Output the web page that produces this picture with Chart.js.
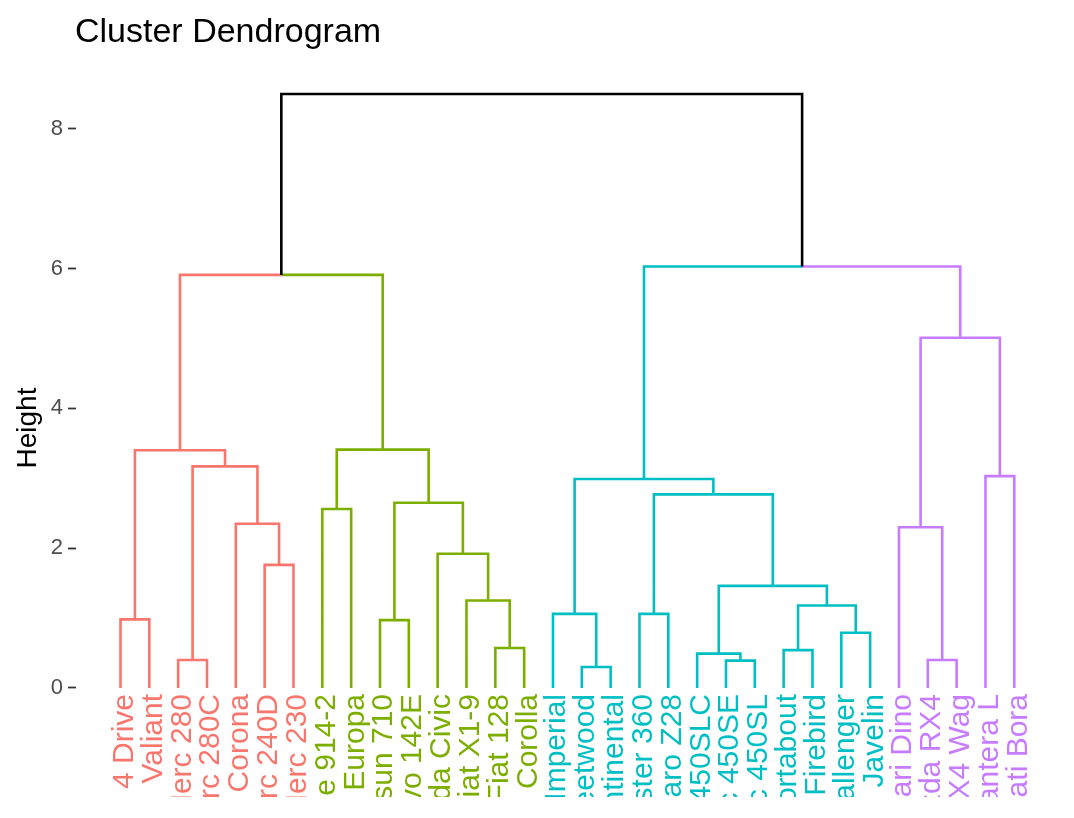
<!DOCTYPE html>
<html>
<head>
<meta charset="utf-8">
<title>Cluster Dendrogram</title>
<script src="https://cdn.jsdelivr.net/npm/chart.js@4.4.1/dist/chart.umd.min.js"></script>
<style>
  html, body { margin: 0; padding: 0; background: #fff; }
  #wrap { width: 1074px; height: 797px; }
</style>
</head>
<body>
<div id="wrap"><canvas id="dend" width="1074" height="797"></canvas></div>
<script>
// leaves in the order they appear on the dendrogram
const leafNames = [
  'Hornet 4 Drive', 'Valiant', 'Merc 280', 'Merc 280C', 'Toyota Corona', 'Merc 240D', 'Merc 230',
  'Porsche 914-2', 'Lotus Europa', 'Datsun 710', 'Volvo 142E', 'Honda Civic', 'Fiat X1-9', 'Fiat 128', 'Toyota Corolla',
  'Chrysler Imperial', 'Cadillac Fleetwood', 'Lincoln Continental', 'Duster 360', 'Camaro Z28',
  'Merc 450SLC', 'Merc 450SE', 'Merc 450SL', 'Hornet Sportabout', 'Pontiac Firebird', 'Dodge Challenger', 'AMC Javelin',
  'Ferrari Dino', 'Mazda RX4', 'Mazda RX4 Wag', 'Ford Pantera L', 'Maserati Bora'
];
const leafCluster = [1,1,1,1,1,1,1, 2,2,2,2,2,2,2,2, 3,3,3,3,3,3,3,3,3,3,3,3, 4,4,4,4,4];
const clusterColors = ['#000000', '#F8766D', '#7CAE00', '#00BFC4', '#C77CFF'];

// merge table, hclust style: negative = leaf number, positive = earlier merge row
const mergeLeft   = [ -3, -17, -22, -29, -21, -24, -14, -26, -10, -1, -16, -19,  6, -13,  5,  -6, -12, -28, -5, -8,  9, 12, 11, -31,  1, 10, 20, 18, 26, 23, 29];
const mergeRight  = [ -4, -18, -23, -30,   3, -25, -15, -27, -11, -2,   2, -20,  8,   7, 13,  -7,  14,   4, 16, -9, 17, 15, 22, -32, 19, 25, 21, 24, 27, 28, 30];
const mergeHeight = [0.40, 0.30, 0.39, 0.40, 0.49, 0.54, 0.57, 0.79, 0.97, 0.98, 1.06, 1.06, 1.18, 1.25, 1.46,
                     1.76, 1.92, 2.30, 2.35, 2.56, 2.65, 2.77, 2.99, 3.03, 3.17, 3.40, 3.41, 5.01, 5.91, 6.03, 8.50];
const yTicks = [0, 2, 4, 6, 8];

// walk the merges and collect the elbow segments per colour
const nodeX = [];
const nodeCl = [];
const segs = {};
function childInfo(ref) {
  if (ref < 0) return { x: -ref, h: 0, cl: leafCluster[-ref - 1] };
  return { x: nodeX[ref - 1], h: mergeHeight[ref - 1], cl: nodeCl[ref - 1] };
}
mergeLeft.forEach(function(l, i) {
  const a = childInfo(l);
  const b = childInfo(mergeRight[i]);
  const h = mergeHeight[i];
  const x = (a.x + b.x) / 2;
  nodeX[i] = x;
  nodeCl[i] = a.cl === b.cl ? a.cl : 0;
  [a, b].forEach(function(c) {
    if (!segs[c.cl]) segs[c.cl] = [];
    segs[c.cl].push({x: x, y: h}, {x: c.x, y: h}, {x: c.x, y: c.h}, {x: c.x, y: null});
  });
});

const datasets = Object.keys(segs).map(function(k) {
  return {
    data: segs[k],
    borderColor: clusterColors[k],
    borderWidth: 2.6,
    pointRadius: 0,
    spanGaps: false,
    tension: 0,
    borderJoinStyle: 'miter',
    borderCapStyle: 'butt',
    clip: false
  };
});

const FONT = '"Liberation Sans", Arial, sans-serif';

const textPlugin = {
  id: 'dendText',
  afterDraw: function(chart) {
    const ctx = chart.ctx;
    const xs = chart.scales.x;
    ctx.save();
    // title
    ctx.fillStyle = '#000';
    ctx.font = '34px ' + FONT;
    ctx.textAlign = 'left';
    ctx.textBaseline = 'alphabetic';
    ctx.fillText('Cluster Dendrogram', 75, 41.5);
    // y axis title
    ctx.save();
    ctx.translate(36, 428);
    ctx.rotate(-Math.PI / 2);
    ctx.font = '28px ' + FONT;
    ctx.textAlign = 'center';
    ctx.fillText('Height', 0, 0);
    ctx.restore();
    // leaf labels
    ctx.font = '30px ' + FONT;
    ctx.textAlign = 'right';
    leafNames.forEach(function(name, i) {
      const px = xs.getPixelForValue(i + 1);
      ctx.save();
      ctx.translate(px + 12.5, 694);
      ctx.rotate(-Math.PI / 2);
      ctx.fillStyle = clusterColors[leafCluster[i]];
      ctx.fillText(name, 0, 0);
      ctx.restore();
    });
    ctx.restore();
  }
};

new Chart(document.getElementById('dend'), {
  type: 'line',
  data: { datasets: datasets },
  options: {
    responsive: false,
    animation: false,
    layout: { padding: { left: 0, right: 14, top: 59, bottom: 107 } },
    plugins: { legend: { display: false }, tooltip: { enabled: false }, title: { display: false } },
    scales: {
      x: { type: 'linear', display: false, min: -0.5435, max: 33.585 },
      y: {
        type: 'linear',
        min: -0.03,
        max: 9,
        afterBuildTicks: function(s) { s.ticks = yTicks.map(function(v) { return {value: v}; }); },
        afterFit: function(s) { s.width = 76; },
        ticks: { color: '#4D4D4D', font: { family: FONT, size: 22 }, padding: 5 },
        grid: { drawOnChartArea: false, drawTicks: true, tickLength: 8, tickColor: '#333333', tickWidth: 1.8 },
        border: { display: false }
      }
    }
  },
  plugins: [textPlugin]
});
</script>
</body>
</html>
